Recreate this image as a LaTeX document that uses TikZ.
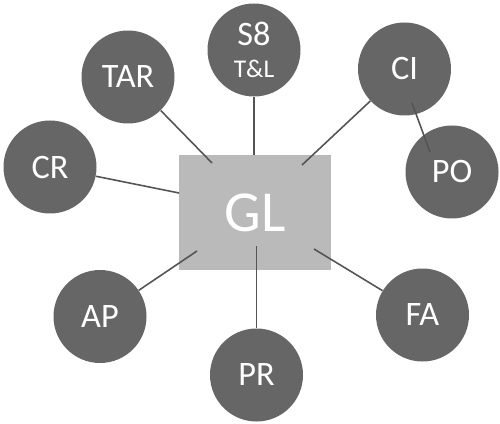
\documentclass[tikz,border=0pt]{standalone}
\usepackage{fontspec}
\setmainfont{Carlito}
\usetikzlibrary{positioning}

\begin{document}
\begin{tikzpicture}
\tikzstyle{hub}=[rectangle,fill=black!27,text=white,minimum width=3.04cm,minimum height=2.3cm,font=\fontsize{33}{38}\selectfont]
\tikzstyle{mod}=[circle,fill=black!60,text=white,minimum size=1.86cm,inner sep=0pt,font=\fontsize{19.5}{22}\selectfont]
\tikzstyle{link}=[draw=black!67,line width=0.9pt]
\useasboundingbox (0,0) rectangle (10,8.46);
\node[hub] (GL) at (5.1,4.21) {GL};
\node[mod] (TAR) at (2.56,6.92) {TAR}; \node[mod,align=center] (S8) at (5.08,7.46) {S8\\[-4pt]{\fontsize{14.5}{16}\selectfont T\&L}}; \node[mod] (CI) at (8.09,7.08) {CI};
\node[mod] (PO) at (9.04,5.02) {PO}; \node[mod] (CR) at (1.0,5.12) {CR};
\node[mod] (AP) at (2.0,2.13) {AP}; \node[mod] (PR) at (5.13,0.96) {PR}; \node[mod] (FA) at (8.45,2.16) {FA};
% ends of the links inside the box
\coordinate (gTAR) at (4.24,5.2); \coordinate (gCR) at (3.58,4.6); \coordinate (gCI) at (6.04,5.16);
\coordinate (gAP) at (3.94,3.44); \coordinate (gPR) at (5.13,3.54); \coordinate (gFA) at (6.28,3.48);
\coordinate (ciA) at (8.24,6.4); \coordinate (poA) at (8.6,5.42);
\draw[link] (TAR) -- (gTAR);
\draw[link] (CR) -- (gCR);
\draw[link] (S8) -- (S8 |- GL.north);
\draw[link] (CI) -- (gCI);
\draw[link] (AP) -- (gAP);
\draw[link] (PR) -- (gPR);
\draw[link] (FA) -- (gFA);
\draw[link] (ciA) -- (poA);
\end{tikzpicture}
\end{document}
